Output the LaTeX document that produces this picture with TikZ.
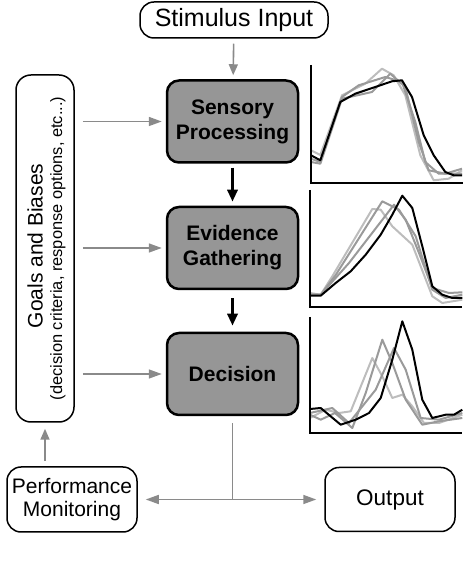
\documentclass[tikz,border=0pt]{standalone}
\usepackage{fontspec}
\setmainfont{Liberation Sans}
\usepackage{tikz}
\usetikzlibrary{positioning,arrows.meta}
\usepackage{xcolor}
\definecolor{boxgray}{HTML}{969696}
\definecolor{linegray}{HTML}{8A8A8A}
\definecolor{tracelight}{HTML}{BDBDBD}
\definecolor{tracemid}{HTML}{9A9A9A}

\begin{document}
\begin{tikzpicture}[x=1pt,y=1pt,>={Triangle[length=13pt,width=9pt]},
  stage/.style={draw,line width=2.5pt,rounded corners=12pt,fill=boxgray,minimum width=131pt,minimum height=82pt,inner sep=2pt,align=center,font=\fontsize{21}{25}\selectfont\bfseries},
  plain/.style={draw,line width=1.5pt,rounded corners=14pt,inner sep=2pt,align=center},
  flow/.style={->,linegray,line width=1.6pt},
  push/.style={-{Triangle[length=12pt,width=10pt]},line width=3pt},
  axis/.style={line width=2.5pt},
  trace/.style={line width=2pt,line join=round}]
\useasboundingbox (0,0) rectangle (474,565);
% boxes
\node[plain,minimum width=188pt,minimum height=36pt,font=\fontsize{25}{28}\selectfont] (stim) at (234,545) {Stimulus Input};
\node[stage] (sens) at (232.5,443.5) {Sensory\\Processing};
\node[stage] (evid) at (232.5,317) {Evidence\\Gathering};
\node[stage] (dec) at (232.5,191) {Decision};
\node[plain,rounded corners=15pt,minimum width=58pt,minimum height=347pt] (goals) at (45,316.5) {};
\node[rotate=90,inner sep=0pt,font=\fontsize{21}{25}\selectfont] (goalsname) at (35,319) {Goals and Biases};
\node[rotate=90,inner sep=0pt,font=\fontsize{16.4}{20}\selectfont] (goalsnote) at (58,316.5) {(decision criteria, response options, etc...)};
\node[plain,minimum width=130pt,minimum height=65pt,font=\fontsize{21}{23.5}\selectfont] (perf) at (72,65.5) {Performance\\Monitoring};
\node[plain,minimum width=130pt,minimum height=64pt,font=\fontsize{22.5}{26}\selectfont] (out) at (390,65.5) {Output};
% connectors
\draw[flow,shorten <=5pt,shorten >=4pt,-{Triangle[length=11pt,width=9pt]}] (stim) -- (sens);
\draw[push,shorten <=4pt,shorten >=4pt] (sens) -- (evid);
\draw[push,shorten <=8pt,shorten >=6pt] (evid) -- (dec);
\foreach \s in {sens,evid,dec}
  \draw[flow,shorten <=8pt,shorten >=4pt] (goals.east |- \s.west) -- (\s.west);
\coordinate (split) at (dec.south |- out.west);
\draw[linegray,line width=1.6pt,shorten <=7pt] (dec.south) -- (split);
\draw[flow,shorten >=8pt] (split) -- (perf.east);
\draw[flow,shorten >=8pt] (split) -- (out.west);
\draw[flow,shorten <=5pt,shorten >=6pt,-{Triangle[length=11pt,width=9pt]}] (perf.north -| goals.south) -- (goals.south);
% sensory traces
\begin{scope}[shift={(311,382)}]
\draw[trace,tracelight] (0,32.7) -- (9.3,28) -- (31,87.7) -- (54.3,99.3) -- (71,114.3) -- (82.7,107.7) -- (94.3,87.7) -- (109.3,27.7) -- (122.7,2.7) -- (137.7,4.3) -- (151,12.7);
\draw[trace,tracemid] (0,21) -- (9.3,19.3) -- (31,84.3) -- (61,91) -- (79.3,109.3) -- (94.3,96) -- (107.7,41) -- (117.7,12.7) -- (134.3,9.3) -- (151,14.3);
\draw[trace,tracemid] (0,24.3) -- (9.3,21) -- (31,86) -- (47.7,97.7) -- (74.3,106) -- (91,101) -- (104.3,61) -- (114.3,21) -- (127.7,9.3) -- (151,9.3);
\draw[trace] (0,27.7) -- (9.3,22.7) -- (29.3,81) -- (44.3,89.3) -- (64.3,96) -- (81,101.7) -- (91,102.7) -- (101,86) -- (112.7,47.7) -- (122.7,27.7) -- (134.3,11) -- (142.7,7.7) -- (151,7.7);
\draw[axis] (0,118) -- (0,0) -- (152,0);
\end{scope}
% evidence traces
\begin{scope}[shift={(310,258)}]
\draw[trace,tracelight] (0,14) -- (10.7,12.3) -- (22.3,30.7) -- (62.3,98) -- (70.7,97.3) -- (82.3,80.7) -- (102.3,62.3) -- (122.3,10.7) -- (132.3,4) -- (152.3,7.3);
\draw[trace,tracemid] (0,12.3) -- (10.7,12.3) -- (25.7,32) -- (72.3,105.7) -- (89,97.3) -- (105.7,70.7) -- (122.3,17.3) -- (135.7,9) -- (152.3,12.3);
\draw[trace,tracemid] (0,12.3) -- (10.7,12.3) -- (39,44) -- (84,102.3) -- (95.7,87.3) -- (109,54) -- (122.3,19) -- (139,14) -- (152.3,14.7);
\draw[trace] (0,11.3) -- (10.7,11.3) -- (25.7,24) -- (40.7,35.7) -- (55.7,52.3) -- (70.7,72.3) -- (82.3,92.3) -- (92.3,111.3) -- (102.3,99) -- (112.3,60.7) -- (122.3,20.7) -- (132.3,12.3) -- (142.3,9) -- (152.3,9);
\draw[axis] (0,117) -- (0,0) -- (152,0);
\end{scope}
% decision traces
\begin{scope}[shift={(310,132)}]
\draw[trace,tracelight] (0,15) -- (15.7,23.3) -- (29,20) -- (40.7,21.7) -- (62.3,75) -- (72.3,56.7) -- (82.3,35) -- (92.3,38.3) -- (102.3,26.7) -- (114,10) -- (129,10) -- (152.3,18.3);
\draw[trace,tracemid] (0,18.3) -- (10.7,13.3) -- (25,20) -- (42.3,5) -- (55.7,40) -- (72.3,93.3) -- (82.3,70) -- (95.7,33.3) -- (112.3,8.3) -- (129,11.7) -- (152.3,15);
\draw[trace,tracemid] (0,20) -- (22.3,25) -- (39,10) -- (65.7,43.3) -- (84,85) -- (95.7,63.3) -- (110.7,15) -- (129,13.3) -- (152.3,20);
\draw[trace] (0,24) -- (10.7,25) -- (30.7,8.3) -- (45.7,13.3) -- (59,20) -- (70.7,35) -- (82.3,73.3) -- (92.3,111.7) -- (102.3,83.3) -- (112.3,33.3) -- (122.3,15) -- (135.7,18.3) -- (144,18.3) -- (152.3,23.3);
\draw[axis] (0,116) -- (0,0) -- (152,0);
\end{scope}
\end{tikzpicture}
\end{document}
